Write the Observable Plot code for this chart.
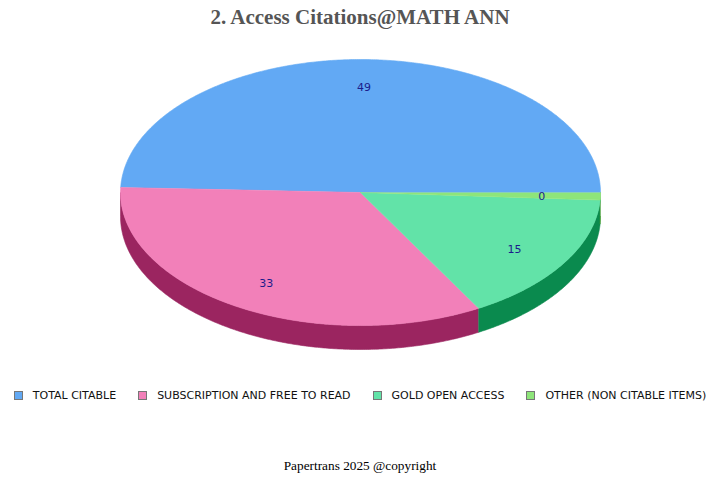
<!DOCTYPE html>
<html>
<head>
<meta charset="utf-8">
<script src="https://cdn.jsdelivr.net/npm/d3@7"></script>
<script src="https://cdn.jsdelivr.net/npm/@observablehq/plot@0.6"></script>
<style>
  html, body { margin: 0; padding: 0; background: #fff; }
  #wrap { position: relative; width: 720px; height: 480px; overflow: hidden; }
  #title { position: absolute; left: 0; top: 0; width: 720px; height: 34px; line-height: 34px; text-align: center;
    font-family: "Liberation Serif", "Times New Roman", serif; font-weight: bold; font-size: 21px; color: #555; }
  #chart { position: absolute; left: 0; top: 34px; }
  #legend { position: absolute; left: 0; top: 384px; width: 720px; height: 22px; display: flex; justify-content: center;
    align-items: center; font-family: "DejaVu Sans", sans-serif; font-size: 11px; color: #111; }
  .item { display: flex; align-items: center; margin: 0 11px; white-space: nowrap; }
  .sw { width: 7px; height: 7px; border: 1px solid #777; margin-right: 10px; }
  #footer { position: absolute; left: 0; top: 456px; width: 720px; height: 20px; line-height: 20px; text-align: center;
    font-family: "Liberation Serif", "Times New Roman", serif; font-size: 13.3px; color: #000; }
</style>
</head>
<body>
<div id="wrap">
  <div id="title"></div>
  <div id="chart"></div>
  <div id="legend"></div>
  <div id="footer"></div>
</div>
<script>
const titleText = "2. Access Citations@MATH ANN";
const footerText = "Papertrans 2025 @copyright";
const categories = ["TOTAL CITABLE", "SUBSCRIPTION AND FREE TO READ", "GOLD OPEN ACCESS", "OTHER (NON CITABLE ITEMS)"];
const values = [49.4, 33.8, 15.9, 0.9];
const topColors = ["#62a9f4", "#f280b9", "#62e3a8", "#8ee57a"];
const sideColors = ["#2f6fb8", "#9b2560", "#0a8a4e", "#3e9a2e"];

document.getElementById("title").textContent = titleText;
document.getElementById("footer").textContent = footerText;

const DEPTH = 0.18;        // side wall thickness, in radius units (y)
const total = d3.sum(values);
const rad = Math.PI / 180;

// slices run counter-clockwise on screen, starting at 3 o'clock (theta decreasing, y down)
let acc = 360;
const slices = values.map((v, i) => {
  const a0 = acc;
  const a1 = acc - v / total * 360;
  acc = a1;
  return {i, key: categories[i], value: v, a0, a1};
});

function arcPts(from, to, dy) {
  const n = Math.max(2, Math.ceil(Math.abs(to - from) / 0.5));
  const pts = [];
  for (let k = 0; k <= n; k++) {
    const t = (from + (to - from) * k / n) * rad;
    pts.push([Math.cos(t), Math.sin(t) + dy]);
  }
  return pts;
}

const topPts = [];
const sidePts = [];
for (const s of slices) {
  topPts.push({key: s.key, x: 0, y: 0, c: topColors[s.i]});
  for (const [x, y] of arcPts(s.a0, s.a1, 0)) topPts.push({key: s.key, x, y, c: topColors[s.i]});
  let lo = Math.min(s.a0, s.a1), hi = Math.max(s.a0, s.a1);
  const ranges = [];
  for (const off of [0, 360]) {
    const a = Math.max(lo - off, 0), b = Math.min(hi - off, 180);
    if (b > a) ranges.push([a, b]);
  }
  ranges.forEach(([a, b], j) => {
    const k = s.key + "-side" + j;
    const up = arcPts(a, b, 0);
    const dn = arcPts(b, a, DEPTH);
    for (const [x, y] of up.concat(dn)) sidePts.push({key: k, x, y, c: sideColors[s.i]});
  });
}

const FX = 0.755, FY = 0.795;
const labels = slices.map(s => {
  const m = (s.a0 + s.a1) / 2 * rad;
  return {x: FX * Math.cos(m), y: FY * Math.sin(m), t: String(Math.floor(s.value))};
});

const chart = Plot.plot({
  width: 720,
  height: 340,
  margin: 0,
  style: {background: "transparent", overflow: "visible"},
  x: {domain: [-1, 1], range: [120, 600], axis: null},
  y: {domain: [-1, 1 + DEPTH], range: [25, 315], axis: null},
  color: {type: "identity"},
  marks: [
    Plot.line(sidePts, {x: "x", y: "y", z: "key", fill: "c", stroke: "c", strokeWidth: 0.6, curve: "linear"}),
    Plot.line(topPts, {x: "x", y: "y", z: "key", fill: "c", stroke: "c", strokeWidth: 0.6, curve: "linear"}),
    Plot.text(labels, {x: "x", y: "y", text: "t", dy: 1, fill: "#1c1c8c", fontSize: 11,
      fontFamily: "DejaVu Sans, sans-serif", textAnchor: "middle"})
  ]
});
document.getElementById("chart").appendChild(chart);

const legend = document.getElementById("legend");
categories.forEach((c, i) => {
  const it = document.createElement("div");
  it.className = "item";
  const sw = document.createElement("span");
  sw.className = "sw";
  sw.style.background = topColors[i];
  const tx = document.createElement("span");
  tx.textContent = c;
  it.appendChild(sw);
  it.appendChild(tx);
  legend.appendChild(it);
});
</script>
</body>
</html>
